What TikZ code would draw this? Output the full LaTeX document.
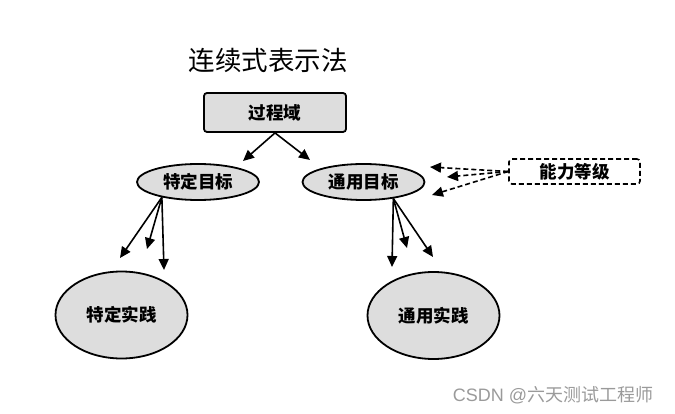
\documentclass[tikz,border=0pt]{standalone}
\usepackage{fontspec}
\setmainfont{Noto Sans CJK SC}
\newfontfamily\latinsans{Liberation Sans}
\usetikzlibrary{arrows.meta,shapes.geometric}
\definecolor{boxgray}{HTML}{DDDDDD}
\definecolor{markgray}{HTML}{9A9A9A}
\begin{document}
\begin{tikzpicture}[x=1pt,y=-1pt,
  lbl/.style={font=\fontsize{17.5}{17.5}\selectfont\bfseries},
  boxnode/.style={lbl, draw, line width=1.8pt, rounded corners=3pt, fill=boxgray,
    minimum width=142pt, minimum height=39pt, inner sep=0pt},
  goalnode/.style={lbl, ellipse, draw, line width=1.8pt, fill=boxgray,
    minimum width=122pt, minimum height=36pt, inner sep=0pt},
  pracnode/.style={lbl, ellipse, draw, line width=1.8pt, fill=boxgray,
    minimum width=132pt, minimum height=87pt, inner sep=0pt},
  capnode/.style={lbl, draw, line width=1.6pt, dash pattern=on 5pt off 3pt,
    rounded corners=3pt, minimum width=131pt, minimum height=25pt, inner sep=0pt},
  arr/.style={line width=1.6pt, -{Triangle[length=11pt,width=10pt]}},
  darr/.style={arr, dash pattern=on 5pt off 3pt}
]
\useasboundingbox (0,0) rectangle (675,414);
\node[font=\fontsize{26.5}{26.5}\selectfont] (title) at (268,60) {连续式表示法};
\node[boxnode] (pa) at (275,112.5) {过程域};
\node[goalnode] (sg) at (198,182) {特定目标};
\node[goalnode] (gg) at (363.5,182) {通用目标};
\node[capnode] (cl) at (574.5,171.5) {能力等级};
\node[pracnode] (sp) at (121.5,315) {特定实践};
\node[pracnode] (gp) at (433.5,315.5) {通用实践};
\node[font=\fontsize{18}{18}\selectfont, text=markgray] (wm) at (553,395) {{\latinsans CSDN @}六天测试工程师};

\coordinate (pa1) at (243,161);
\coordinate (pa2) at (310,160);
\draw[arr] (pa.south) -- (pa1);
\draw[arr] (pa.south) -- (pa2);

\coordinate (sg1) at (120,258);
\coordinate (sg2) at (147,249);
\coordinate (sg3) at (164,270);
\draw[arr] (sg.203) -- (sg1);
\draw[arr] (sg.203) -- (sg2);
\draw[arr] (sg.203) -- (sg3);

\coordinate (gg1) at (392,267);
\coordinate (gg2) at (407,248);
\coordinate (gg3) at (433,257);
\draw[arr] (gg.331) -- (gg1);
\draw[arr] (gg.331) -- (gg2);
\draw[arr] (gg.331) -- (gg3);

\coordinate (cl1) at (430,167);
\coordinate (cl2) at (447,177);
\coordinate (cl3) at (432,195);
\draw[darr] (cl.west) -- (cl1);
\draw[darr] (cl.west) -- (cl2);
\draw[darr] (cl.west) -- (cl3);
\end{tikzpicture}
\end{document}
